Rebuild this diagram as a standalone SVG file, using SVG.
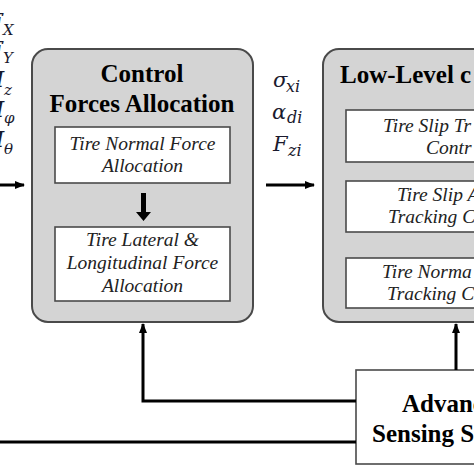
<svg xmlns="http://www.w3.org/2000/svg" width="474" height="474" viewBox="0 0 474 474">
<defs>
<marker id="ah" markerWidth="10" markerHeight="8" refX="9" refY="4" orient="auto" markerUnits="userSpaceOnUse">
<path d="M0,0 L10,4 L0,8 Z" fill="#000"/>
</marker>
<style>
.outer{fill:#d4d4d4;stroke:#4a4a4a;stroke-width:2}
.inner{fill:#fff;stroke:#4a4a4a;stroke-width:1.6}
.title{font-family:"Liberation Serif",serif;font-weight:bold;font-size:25px;fill:#000}
.it{font-family:"Liberation Serif",serif;font-style:italic;font-size:19.5px;fill:#222}
.math{font-family:"DejaVu Serif","Liberation Serif",serif;font-style:italic;fill:#1a1a2e}
.ln{fill:none;stroke:#000;stroke-width:3}
</style>
</defs>
<rect width="474" height="474" fill="#fff"/>

<g id="inputs">
<text class="math" font-size="22" x="3" y="29" text-anchor="end">F</text>
<text class="math" font-size="15" x="3" y="35">X</text>
<text class="math" font-size="22" x="3" y="57" text-anchor="end">F</text>
<text class="math" font-size="15" x="3" y="63">Y</text>
<text class="math" font-size="22" x="4" y="87" text-anchor="end" font-weight="bold">M</text>
<text class="math" font-size="15" x="4" y="95">z</text>
<text class="math" font-size="22" x="4" y="117" text-anchor="end" font-weight="bold">M</text>
<text class="math" font-size="15" x="4" y="123">φ</text>
<text class="math" font-size="22" x="4" y="147" text-anchor="end" font-weight="bold">M</text>
<text class="math" font-size="15" x="4" y="154">θ</text>
</g>

<g id="control-forces-allocation">
<rect class="outer" x="32" y="49" width="221" height="273" rx="16"/>
<text class="title" x="142" y="82" text-anchor="middle">Control</text>
<text class="title" x="142" y="112" text-anchor="middle">Forces Allocation</text>
</g>

<g id="tire-normal-force-allocation">
<rect class="inner" x="55" y="127" width="175" height="56"/>
<text class="it" x="142.5" y="150" text-anchor="middle">Tire Normal Force</text>
<text class="it" x="142.5" y="172" text-anchor="middle">Allocation</text>
</g>

<g id="tire-lateral-longitudinal-force-allocation">
<rect class="inner" x="55" y="227" width="175" height="74"/>
<text class="it" x="142.5" y="246" text-anchor="middle">Tire Lateral &amp;</text>
<text class="it" x="142.5" y="269" text-anchor="middle">Longitudinal Force</text>
<text class="it" x="142.5" y="292" text-anchor="middle">Allocation</text>
</g>

<g id="signals">
<text class="math" font-size="21" x="273" y="87">σ</text>
<text class="math" font-size="16" x="286" y="92">xi</text>
<text class="math" font-size="21" x="272" y="119">α</text>
<text class="math" font-size="16" x="287" y="123">di</text>
<text class="math" font-size="21" x="273" y="151">F</text>
<text class="math" font-size="16" x="288" y="156">zi</text>
</g>

<g id="low-level-controllers">
<rect class="outer" x="323" y="49" width="170" height="273" rx="16"/>
<text class="title" x="340" y="83">Low-Level c</text>
</g>

<g id="tire-slip-tracking-control">
<rect class="inner" x="346" y="110" width="140" height="52"/>
<text class="it" x="383" y="132">Tire Slip Tr</text>
<text class="it" x="426" y="154">Contr</text>
</g>

<g id="tire-slip-angle-tracking-control">
<rect class="inner" x="346" y="181" width="140" height="51"/>
<text class="it" x="397" y="201">Tire Slip A</text>
<text class="it" x="388" y="223">Tracking C</text>
</g>

<g id="tire-normal-force-tracking-control">
<rect class="inner" x="346" y="258" width="140" height="50"/>
<text class="it" x="382" y="278">Tire Norma</text>
<text class="it" x="387" y="300">Tracking C</text>
</g>

<g id="advanced-sensing-system">
<rect class="inner" x="356" y="370" width="130" height="94"/>
<text class="title" x="402" y="412">Advanc</text>
<text class="title" x="372" y="442">Sensing S</text>
</g>

<g id="connectors">
<line class="ln" x1="0" y1="185" x2="24" y2="185" stroke-width="2.5" marker-end="url(#ah)"/>
<line class="ln" x1="266" y1="185" x2="314" y2="185" stroke-width="2.5" marker-end="url(#ah)"/>
<path d="M141,193 h5 v19 h5 l-7.5,9 l-7.5,-9 h5 z" fill="#000"/>
<polyline class="ln" points="356,401 143,401 143,324" marker-end="url(#ah)"/>
<line class="ln" x1="456" y1="370" x2="456" y2="324" marker-end="url(#ah)"/>
<line class="ln" x1="0" y1="442" x2="356" y2="442"/>
</g>
</svg>
